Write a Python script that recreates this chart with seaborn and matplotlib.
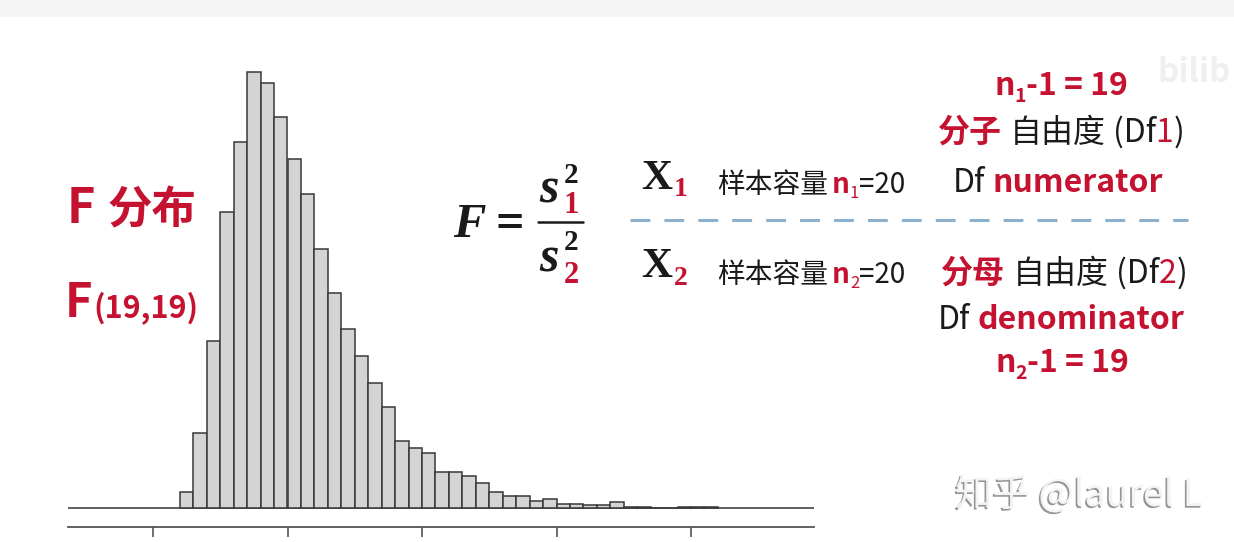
import numpy as np
import pandas as pd
import matplotlib
matplotlib.use('Agg')
import matplotlib.pyplot as plt
import matplotlib.patheffects as pe
from matplotlib.lines import Line2D
from matplotlib.patches import Rectangle
import seaborn as sns

# histogram of simulated F(19,19) values, bins of 0.1 starting at 0.2
bin_start = 0.2
bin_width = 0.1
counts = [16, 75, 167, 296, 366, 436, 425, 391, 349, 314,
          259, 215, 179, 152, 125, 101, 67, 60, 55, 36,
          36, 32, 25, 16, 12, 12, 7, 9, 4, 4,
          3, 3, 6, 1, 1, 0, 0, 1, 1, 1]
x_ticks = [0, 1, 2, 3, 4]

RED = '#c41230'
BLACK = '#1a1a1a'

sns.set_style('white')
plt.rcParams['font.family'] = ['Noto Sans CJK SC', 'DejaVu Sans']

W, H = 1234, 542
fig = plt.figure(figsize=(W / 100, H / 100), dpi=100)
fig.patch.set_facecolor('white')


def fx(x):
    return x / W


def fy(y):
    return 1 - y / H


# =====================================
# histogram
# =====================================
edges = [round(bin_start + bin_width * i, 2) for i in range(len(counts) + 1)]
hist_df = pd.DataFrame({'F': [e + bin_width / 2 for e in edges[:-1]], 'n': counts})

ax = fig.add_axes([fx(68), 15 / H, (814 - 68) / W, 467 / H])
sns.histplot(data=hist_df, x='F', weights='n', bins=edges, ax=ax,
             color='#d4d4d4', edgecolor='#383838', linewidth=1.1, alpha=1)
ax.axhline(0, color='#444444', lw=1.2, zorder=0)
ax.set_xlim((68 - 153) / 134.5, (814 - 153) / 134.5)
ax.set_ylim(-19, 448)
ax.set_xticks(x_ticks)
ax.set_xticklabels([])
ax.set_yticks([])
ax.set_xlabel('')
ax.set_ylabel('')
for s in ['left', 'top', 'right']:
    ax.spines[s].set_visible(False)
ax.spines['bottom'].set_color('#555555')
ax.spines['bottom'].set_linewidth(1.3)
ax.tick_params(axis='x', length=7.5, width=1.2, color='#555555', bottom=True)
ax.patch.set_alpha(0)

# =====================================
# text helper: pieces on one baseline
# =====================================
renderer = fig.canvas.get_renderer()


def rich(x, y, pieces, ha='center'):
    arts = []
    total = 0
    for p in pieces:
        s = p[0]
        kw = dict(p[1])
        dy = kw.pop('dy', 0)
        gap = kw.pop('gap', 0)
        t = fig.text(0, 0, s, ha='left', va='baseline', **kw)
        w = t.get_window_extent(renderer).width
        arts.append((t, w, gap, dy))
        total += w + gap
    cur = x - total / 2 if ha == 'center' else x
    for t, w, gap, dy in arts:
        cur += gap
        t.set_position((fx(cur), fy(y + dy)))
        cur += w


serif_bi = dict(family='Liberation Serif', weight='bold', style='italic')
serif_b = dict(family='Liberation Serif', weight='bold')

# left title
rich(67, 223, [('F', dict(size=35, color=RED, weight='bold')),
               ('分布', dict(size=32, color=RED, weight='bold', gap=12))], ha='left')
rich(65, 317, [('F', dict(size=34, color=RED, weight='bold')),
               ('(19,19)', dict(size=22, color=RED, weight='bold', gap=1))], ha='left')

# formula F = s1^2 / s2^2
fig.text(fx(453), fy(237), 'F', size=35, color=BLACK, ha='left', va='baseline', **serif_bi)
fig.text(fx(496), fy(237), '=', size=36, color=BLACK, ha='left', va='baseline', **serif_b)
fig.add_artist(Line2D([fx(538), fx(583)], [fy(222), fy(222)], color=BLACK, lw=1.8))
fig.text(fx(539), fy(203), 's', size=36, color=BLACK, ha='left', va='baseline', **serif_bi)
fig.text(fx(564), fy(183), '2', size=21, color=BLACK, ha='left', va='baseline', **serif_b)
fig.text(fx(564), fy(213), '1', size=22, color=RED, ha='left', va='baseline', **serif_b)
fig.text(fx(539), fy(272), 's', size=36, color=BLACK, ha='left', va='baseline', **serif_bi)
fig.text(fx(564), fy(250), '2', size=21, color=BLACK, ha='left', va='baseline', **serif_b)
fig.text(fx(564), fy(283), '2', size=22, color=RED, ha='left', va='baseline', **serif_b)

# X1 / X2
rich(641, 189, [('X', dict(size=31, color=BLACK, **serif_b)),
                ('1', dict(size=20, color=RED, dy=7, gap=2, **serif_b))], ha='left')
rich(641, 277, [('X', dict(size=31, color=BLACK, **serif_b)),
                ('2', dict(size=20, color=RED, dy=8, gap=2, **serif_b))], ha='left')

rich(717, 193, [('样本容量', dict(size=20, color=BLACK)),
                ('n', dict(size=20, color=RED, weight='bold', gap=4)),
                ('1', dict(size=12, color=RED, dy=5)),
                ('=20', dict(size=20, color=BLACK))], ha='left')
rich(717, 283, [('样本容量', dict(size=20, color=BLACK)),
                ('n', dict(size=20, color=RED, weight='bold', gap=4)),
                ('2', dict(size=12, color=RED, dy=5)),
                ('=20', dict(size=20, color=BLACK))], ha='left')

# dashed divider
fig.add_artist(Line2D([fx(630), fx(1188)], [fy(220), fy(220)], color='#8db0cc',
                      lw=2.2, linestyle=(0, (6.5, 4.6))))

# right column
rich(1061, 95, [('n', dict(size=23, color=RED, weight='bold')),
                ('1', dict(size=14, color=RED, weight='bold', dy=7)),
                ('-1 = 19', dict(size=23, color=RED, weight='bold'))])
rich(1061, 142, [('分子', dict(size=23, color=RED, weight='bold')),
                 ('自由度', dict(size=23, color=BLACK, gap=8)),
                 ('(Df', dict(size=23, color=BLACK, gap=7)),
                 ('1', dict(size=23, color=RED)),
                 (')', dict(size=23, color=BLACK))])
rich(1058, 192, [('Df', dict(size=23, color=BLACK)),
                 ('numerator', dict(size=23, color=RED, weight='bold', gap=7))])
rich(1064, 283, [('分母', dict(size=23, color=RED, weight='bold')),
                 ('自由度', dict(size=23, color=BLACK, gap=8)),
                 ('(Df', dict(size=23, color=BLACK, gap=7)),
                 ('2', dict(size=23, color=RED)),
                 (')', dict(size=23, color=BLACK))])
rich(1061, 329, [('Df', dict(size=23, color=BLACK)),
                 ('denominator', dict(size=23, color=RED, weight='bold', gap=7))])
rich(1062, 372, [('n', dict(size=23, color=RED, weight='bold')),
                 ('2', dict(size=14, color=RED, weight='bold', dy=7)),
                 ('-1 = 19', dict(size=23, color=RED, weight='bold'))])

# watermarks and top strip
fig.add_artist(Rectangle((0, fy(17)), 1, 17 / H, transform=fig.transFigure,
                         facecolor='#f5f5f5', edgecolor='none'))
fig.text(fx(1231), fy(82), 'bilib', size=24, color='#efefef', weight='bold',
         ha='right', va='baseline')
fig.text(fx(955), fy(506), '知乎 @laurel L', size=27, color='#f4f4f4',
         ha='left', va='baseline',
         path_effects=[pe.SimplePatchShadow(offset=(-1.2, -1.2), shadow_rgbFace='#8a8a8a', alpha=0.9),
                       pe.Normal()])

fig.savefig('out.png', dpi=100)
